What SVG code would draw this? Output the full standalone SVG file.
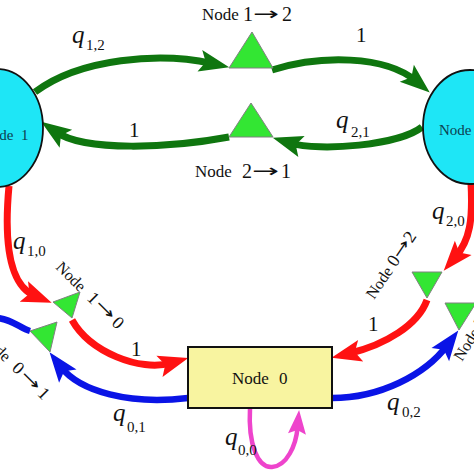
<svg xmlns="http://www.w3.org/2000/svg" width="474" height="474" viewBox="0 0 474 474">
<defs>
<style>
.lbl{font-family:"Liberation Serif","Times New Roman",serif;fill:#111}
.arr{font-family:"DejaVu Sans","Liberation Sans",sans-serif;fill:#111}
.q{font-family:"Liberation Serif","Times New Roman",serif;font-style:italic;font-size:25px;fill:#111}
.sub{font-family:"Liberation Serif","Times New Roman",serif;font-size:15px;fill:#111}
.one{font-family:"Liberation Serif","Times New Roman",serif;font-size:21px;fill:#111}
.nl{font-family:"Liberation Serif","Times New Roman",serif;font-size:15px;fill:#0d4050}
.tri{fill:#33e633;stroke:#808080;stroke-width:1}
.g{fill:none;stroke:#0f760f;stroke-width:7}
.r{fill:none;stroke:#ff1212;stroke-width:7}
.b{fill:none;stroke:#0a14e6;stroke-width:6.5}
.m{fill:none;stroke:#ee44cc;stroke-width:4.5}
</style>
<marker id="ag" markerUnits="userSpaceOnUse" markerWidth="40" markerHeight="30" refX="0" refY="0" viewBox="-15 -15 40 30" orient="auto" overflow="visible"><path d="M-12,-11 L18,0 L-12,11 L-6,0 z" fill="#0f760f"/></marker>
<marker id="ar" markerUnits="userSpaceOnUse" markerWidth="40" markerHeight="30" refX="0" refY="0" viewBox="-15 -15 40 30" orient="auto" overflow="visible"><path d="M-12,-11 L18,0 L-12,11 L-6,0 z" fill="#ff1212"/></marker>
<marker id="ab" markerUnits="userSpaceOnUse" markerWidth="40" markerHeight="30" refX="0" refY="0" viewBox="-15 -15 40 30" orient="auto" overflow="visible"><path d="M-12,-11 L18,0 L-12,11 L-6,0 z" fill="#0a14e6"/></marker>
<marker id="am" markerUnits="userSpaceOnUse" markerWidth="40" markerHeight="30" refX="0" refY="0" viewBox="-15 -15 40 30" orient="auto" overflow="visible"><path d="M-6,-9 L18,0 L-6,9 L-2,0 z" fill="#ee44cc"/></marker>
</defs>
<rect width="474" height="474" fill="#ffffff"/>

<g id="connectors">
<path class="g" d="M35,92 C80,58 160,52 211.6,63.3" marker-end="url(#ag)"/>
<path class="g" d="M272,70 C320,55 385,55 416,81" marker-end="url(#ag)"/>
<path class="g" d="M422,127 C400,145 320,152 290,143" marker-end="url(#ag)"/>
<path class="g" d="M229,137 C170,148 85,152 56,132" marker-end="url(#ag)"/>
<path class="r" d="M9,186 C4,240 8,285 35,296" marker-end="url(#ar)"/>
<path class="r" d="M72,320 C90,352 140,372 171,363" marker-end="url(#ar)"/>
<path class="b" d="M188,398 C130,405 80,392 60.5,366.6" marker-end="url(#ab)"/>
<path class="b" d="M-5,318 C10,318 20,328 30,331"/>
<path class="r" d="M471,183 C473,220 470,240 455.4,257" marker-end="url(#ar)"/>
<path class="r" d="M427,300 C418,325 385,345 349,353.5" marker-end="url(#ar)"/>
<path class="b" d="M332,398 C380,398 425,375 447.5,345" marker-end="url(#ab)"/>
<path class="m" d="M250,408 C248,445 258,468 272,467 C287,466 296,445 297.5,428" marker-end="url(#am)"/>
</g>

<g id="node1">
<ellipse cx="-3" cy="128" rx="46" ry="59" fill="#1ee6f6" stroke="#111" stroke-width="1.8"/>
<text class="nl" x="-19" y="140">Node<tspan x="21">1</tspan></text>
</g>
<g id="node2">
<ellipse cx="470" cy="127" rx="47" ry="57" fill="#1ee6f6" stroke="#111" stroke-width="1.8"/>
<text class="nl" x="439" y="135">Node<tspan x="484">2</tspan></text>
</g>
<g id="node0">
<rect x="188" y="347" width="144" height="61" fill="#f8f4a0" stroke="#111" stroke-width="2"/>
<text class="lbl" x="232" y="384" font-size="17">Node<tspan x="279">0</tspan></text>
</g>

<g id="link12">
<polygon class="tri" points="252,32 229,68 273,68"/>
<text class="lbl" x="202" y="20" font-size="17">Node</text>
<text class="lbl" x="243" y="21" font-size="20">1</text>
<text class="arr" x="253" y="20" font-size="18" textLength="26" lengthAdjust="spacingAndGlyphs">→</text>
<text class="lbl" x="282" y="21" font-size="20">2</text>
</g>
<g id="link21">
<polygon class="tri" points="251,103 229,137 273,137"/>
<text class="lbl" x="195" y="177" font-size="17">Node</text>
<text class="lbl" x="242" y="178" font-size="20">2</text>
<text class="arr" x="252" y="177" font-size="18" textLength="27" lengthAdjust="spacingAndGlyphs">→</text>
<text class="lbl" x="281" y="178" font-size="20">1</text>
</g>
<g id="link10">
<polygon class="tri" points="53,302 80,292 72,318"/>
<g transform="translate(55,268) rotate(45)">
<text class="lbl" x="0" y="0" font-size="16">Node</text>
<text class="lbl" x="44" y="0" font-size="18">1</text>
<text class="arr" x="54" y="-1" font-size="16" textLength="22" lengthAdjust="spacingAndGlyphs">→</text>
<text class="lbl" x="79" y="0" font-size="18">0</text>
</g>
</g>
<g id="link01">
<polygon class="tri" points="30,331 57,322 50,352"/>
<g transform="translate(-20,338) rotate(45)">
<text class="lbl" x="0" y="0" font-size="16">Node</text>
<text class="lbl" x="44" y="0" font-size="18">0</text>
<text class="arr" x="55" y="-1" font-size="16" textLength="22" lengthAdjust="spacingAndGlyphs">→</text>
<text class="lbl" x="80" y="0" font-size="18">1</text>
</g>
</g>
<g id="link02">
<polygon class="tri" points="412,272 442,272 427,298"/>
<g transform="translate(374,300) rotate(-56)">
<text class="lbl" x="0" y="0" font-size="16">Node</text>
<text class="lbl" x="39" y="0" font-size="18">0</text>
<text class="arr" x="48" y="-1" font-size="16" textLength="20" lengthAdjust="spacingAndGlyphs">→</text>
<text class="lbl" x="68" y="0" font-size="18">2</text>
</g>
</g>
<g id="link20">
<polygon class="tri" points="445,303 476,303 459,330"/>
<g transform="translate(462,362) rotate(-58)">
<text class="lbl" x="0" y="0" font-size="16">Node</text>
<text class="lbl" x="39" y="0" font-size="18">2</text>
<text class="arr" x="48" y="-1" font-size="16" textLength="20" lengthAdjust="spacingAndGlyphs">→</text>
<text class="lbl" x="68" y="0" font-size="18">0</text>
</g>
</g>

<g id="labels">
<text class="q" x="72" y="43">q</text><text class="sub" x="86" y="50">1,2</text>
<text class="q" x="336" y="128">q</text><text class="sub" x="351" y="137">2,1</text>
<text class="q" x="13" y="249">q</text><text class="sub" x="27" y="256">1,0</text>
<text class="q" x="113" y="421">q</text><text class="sub" x="127" y="432">0,1</text>
<text class="q" x="225" y="445">q</text><text class="sub" x="238" y="455">0,0</text>
<text class="q" x="432" y="219">q</text><text class="sub" x="446" y="226">2,0</text>
<text class="q" x="387" y="410">q</text><text class="sub" x="402" y="417">0,2</text>
<text class="one" x="356" y="42">1</text>
<text class="one" x="129" y="137">1</text>
<text class="one" x="131" y="356">1</text>
<text class="one" x="368" y="331">1</text>
</g>
</svg>
